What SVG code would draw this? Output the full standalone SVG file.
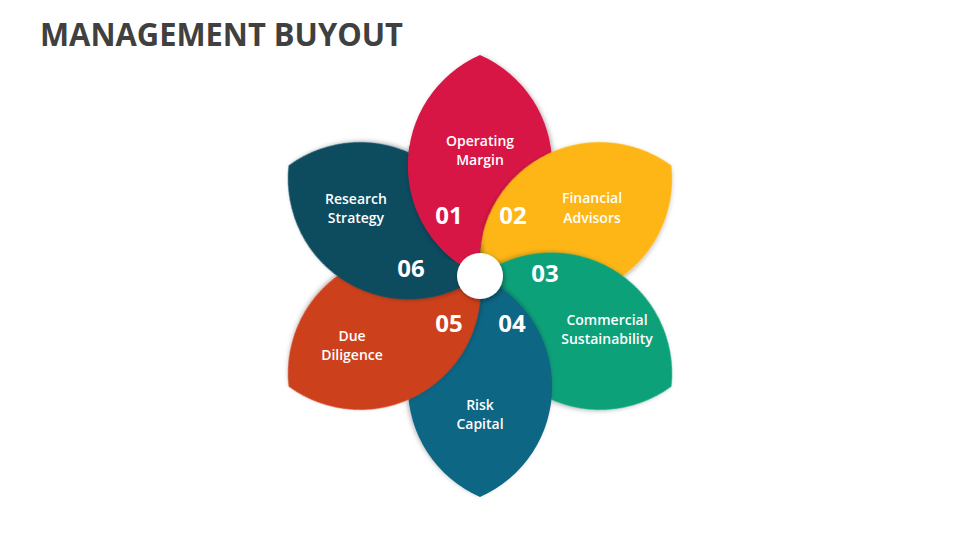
<svg xmlns="http://www.w3.org/2000/svg" xmlns:xlink="http://www.w3.org/1999/xlink" width="960" height="540" viewBox="0 0 960 540">
<style>
.title{font-family:"Open Sans","Liberation Sans",sans-serif;font-weight:700;font-size:32px;fill:#404040}
.lbl{font-family:"Open Sans","Liberation Sans",sans-serif;font-weight:600;font-size:14px;fill:#ffffff;text-anchor:middle}
.num{font-family:"Open Sans","Liberation Sans",sans-serif;font-weight:700;font-size:24px;fill:#ffffff;text-anchor:middle}
</style>
<defs>
<path id="petal" d="M0,0 A120.7,120.7 0 0 1 0,-221 A120.7,120.7 0 0 1 0,0 Z"/>
<filter id="sh" x="-30%" y="-30%" width="160%" height="160%">
<feDropShadow dx="1.5" dy="2" stdDeviation="2.5" flood-color="#000" flood-opacity="0.35"/>
</filter>
<mask id="mask06" maskUnits="userSpaceOnUse" x="0" y="0" width="960" height="540">
<use xlink:href="#petal" transform="translate(480,276) rotate(300)" fill="#fff" stroke="#fff" stroke-width="12"/>
<use xlink:href="#petal" transform="translate(480,276) rotate(60)" fill="#000"/>
<use xlink:href="#petal" transform="translate(480,276) rotate(240)" fill="#000"/>
</mask>
</defs>
<rect width="960" height="540" fill="#ffffff"/>
<text class="title" x="40" y="46" textLength="363" lengthAdjust="spacingAndGlyphs">MANAGEMENT BUYOUT</text>
<g id="connectors"></g>
<g id="node01"><use xlink:href="#petal" transform="translate(480,276)" fill="#D81744" filter="url(#sh)"/></g>
<g id="node02"><use xlink:href="#petal" transform="translate(480,276) rotate(60)" fill="#FDB614" filter="url(#sh)"/></g>
<g id="node03"><use xlink:href="#petal" transform="translate(480,276) rotate(120)" fill="#08A17A" filter="url(#sh)"/></g>
<g id="node04"><use xlink:href="#petal" transform="translate(480,276) rotate(180)" fill="#116684" filter="url(#sh)"/></g>
<g id="node05"><use xlink:href="#petal" transform="translate(480,276) rotate(240)" fill="#CD411B" filter="url(#sh)"/></g>
<g id="node06"><use xlink:href="#petal" transform="translate(480,276) rotate(300)" fill="#0C4B5F" filter="url(#sh)"/></g>
<g id="node01-top" mask="url(#mask06)"><use xlink:href="#petal" transform="translate(480,276)" fill="#D81744" filter="url(#sh)"/></g>
<g id="hub"><circle cx="480" cy="276" r="23" fill="#ffffff" filter="url(#sh)"/></g>
<g id="labels">
<text class="lbl" x="480" y="146">Operating</text><text class="lbl" x="480" y="165">Margin</text>
<text class="lbl" x="592" y="203">Financial</text><text class="lbl" x="592" y="223">Advisors</text>
<text class="lbl" x="607" y="325">Commercial</text><text class="lbl" x="607" y="344">Sustainability</text>
<text class="lbl" x="480" y="410">Risk</text><text class="lbl" x="480" y="429">Capital</text>
<text class="lbl" x="352" y="341">Due</text><text class="lbl" x="352" y="360">Diligence</text>
<text class="lbl" x="356" y="204">Research</text><text class="lbl" x="356" y="223">Strategy</text>
<text class="num" x="449" y="224">01</text>
<text class="num" x="513" y="224">02</text>
<text class="num" x="545" y="282">03</text>
<text class="num" x="512" y="332">04</text>
<text class="num" x="449" y="332">05</text>
<text class="num" x="411" y="277">06</text>
</g>
</svg>
